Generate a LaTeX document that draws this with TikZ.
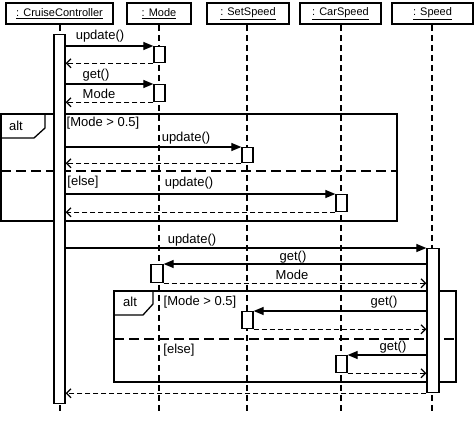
\documentclass[tikz,border=0pt]{standalone}
\usepackage{fontspec}
\setmainfont{Liberation Sans}
\usetikzlibrary{arrows.meta}
\tikzset{
  head/.style={draw, line width=1.6pt, fill=white, minimum height=21pt, inner sep=0pt,
    font=\fontsize{11}{13}\selectfont},
  life/.style={line width=1.3pt, dash pattern=on 6pt off 4pt},
  act/.style={draw, line width=1.3pt, fill=white, minimum width=11pt, inner sep=0pt, anchor=north},
  msg/.style={line width=1.25pt, -{Triangle[length=10pt,width=8pt]}},
  ret/.style={line width=1.25pt, dash pattern=on 5pt off 3pt, -{Straight Barb[length=4.5pt,width=9pt,line width=1.25pt]}},
  frm/.style={line width=1.3pt},
  sep/.style={line width=1.3pt, dash pattern=on 10pt off 5pt},
  lbl/.style={font=\fontsize{13}{15}\selectfont, inner sep=0pt},
}
\begin{document}
\begin{tikzpicture}[x=1pt,y=-1pt]
\useasboundingbox (0,0) rectangle (474,439);
% heads
\node[head, minimum width=107pt] (hCC) at (59.5,13.5) {\underline{: CruiseController}};
\node[head, minimum width=64pt] (hMo) at (159,13.5) {\underline{: Mode}};
\node[head, minimum width=82pt] (hSS) at (248,13.5) {\underline{: SetSpeed}};
\node[head, minimum width=81pt] (hCS) at (340.5,13.5) {\underline{: CarSpeed}};
\node[head, minimum width=81pt] (hSp) at (432.5,13.5) {\underline{: Speed}};
% lifeline ends
\coordinate (eCC) at (60,414);
\coordinate (eMo) at (159,414);
\coordinate (eSS) at (247,414);
\coordinate (eCS) at (341,414);
\coordinate (eSp) at (432,414);
\draw[life] (hCC.south -| eCC) -- (eCC);
\draw[life] (hMo.south -| eMo) -- (eMo);
\draw[life] (hSS.south -| eSS) -- (eSS);
\draw[life] (hCS.south -| eCS) -- (eCS);
\draw[life] (hSp.south -| eSp) -- (eSp);
% frames
\coordinate (f1a) at (1,114);
\coordinate (f1b) at (397,221);
\draw[frm] (f1a) rectangle (f1b);
\draw[frm] (1,138) -- (34,138) -- (45,128) -- (45,114);
\draw[sep] (1,171) -- (397,171);
\node[lbl] (alt1) at (16,126) {alt};
\coordinate (f2a) at (114,291);
\coordinate (f2b) at (456,382);
\draw[frm] (f2a) rectangle (f2b);
\draw[frm] (114,315) -- (143,315) -- (153,304) -- (153,291);
\draw[sep] (114,339) -- (456,339);
\node[lbl] (alt2) at (130,302) {alt};
% activations
\node[act, minimum height=369pt] (aCC) at (59.5,34) {};
\node[act, minimum height=16pt] (aM1) at (159.5,46) {};
\node[act, minimum height=17pt] (aM2) at (159.5,84) {};
\node[act, minimum height=15pt] (aS1) at (247.5,147) {};
\node[act, minimum height=17pt] (aC1) at (341.5,194) {};
\node[act, minimum height=144pt, minimum width=12pt] (aSp) at (433,248) {};
\node[act, minimum height=18pt, minimum width=12pt] (aM3) at (157,264) {};
\node[act, minimum height=17pt] (aS2) at (247.5,311) {};
\node[act, minimum height=17pt] (aC2) at (341.5,355) {};
% messages
\draw[msg] (aCC.east |- aM1.north) -- (aM1.north west);
\draw[ret] (aM1.south west) -- (aCC.east |- aM1.south);
\draw[msg] (aCC.east |- aM2.north) -- (aM2.north west);
\draw[ret] (aM2.south west) -- (aCC.east |- aM2.south);
\draw[msg] (aCC.east |- aS1.north) -- (aS1.north west);
\draw[ret] (aS1.south west) -- (aCC.east |- aS1.south);
\draw[msg] (aCC.east |- aC1.north) -- (aC1.north west);
\draw[ret] (aC1.south west) -- (aCC.east |- aC1.south);
\draw[msg] (aCC.east |- aSp.north) -- (aSp.north west);
\draw[msg] (aSp.west |- aM3.north) -- (aM3.north east);
\draw[ret] (aM3.south east) -- (aSp.west |- aM3.south);
\draw[msg] (aSp.west |- aS2.north) -- (aS2.north east);
\draw[ret] (aS2.south east) -- (aSp.west |- aS2.south);
\draw[msg] (aSp.west |- aC2.north) -- (aC2.north east);
\draw[ret] (aC2.south east) -- (aSp.west |- aC2.south);
\draw[ret] (aSp.south west) -- (aCC.east |- aSp.south);
% labels
\node[lbl] (l1) at (100,36) {update()};
\node[lbl] (l2) at (96,75) {get()};
\node[lbl] (l3) at (99,94) {Mode};
\node[lbl] (g1) at (103,123) {[Mode > 0.5]};
\node[lbl] (l4) at (186,138) {update()};
\node[lbl] (g2) at (83,182) {[else]};
\node[lbl] (l5) at (189,183) {update()};
\node[lbl] (l6) at (192,240) {update()};
\node[lbl] (l7) at (293,257) {get()};
\node[lbl] (l8) at (292,275) {Mode};
\node[lbl] (g3) at (200,302) {[Mode > 0.5]};
\node[lbl] (l9) at (384,302) {get()};
\node[lbl] (g4) at (179,350) {[else]};
\node[lbl] (l10) at (393,347) {get()};
\end{tikzpicture}
\end{document}
